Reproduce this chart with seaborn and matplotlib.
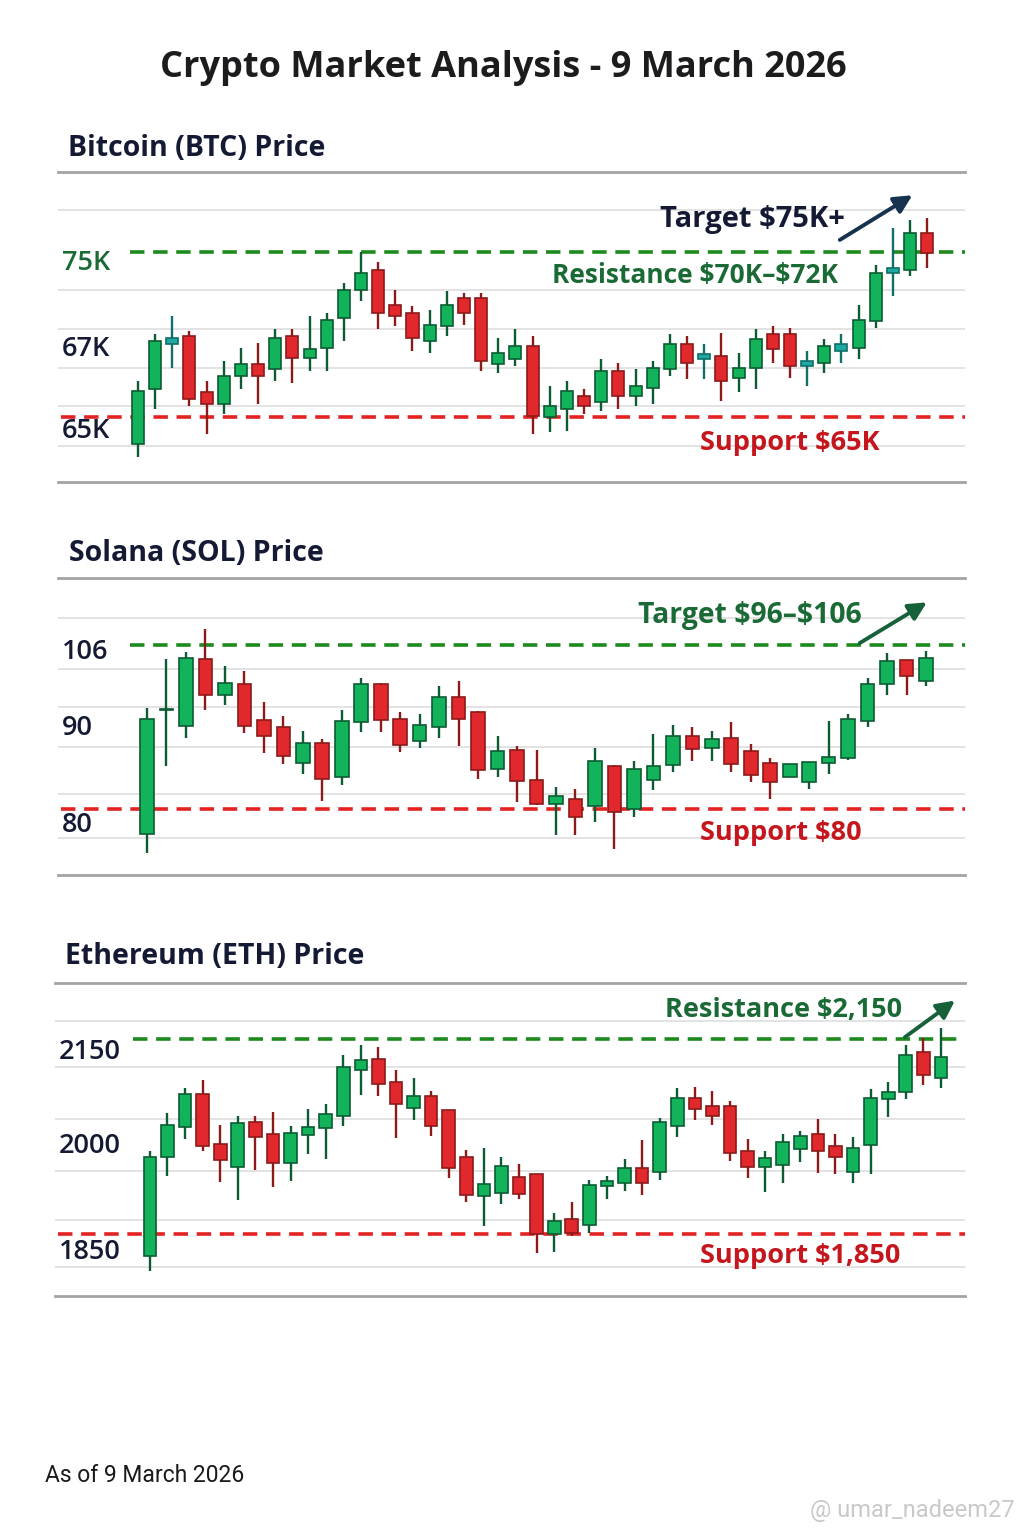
import numpy as np
import matplotlib
matplotlib.use('Agg')
import matplotlib.pyplot as plt
import seaborn as sns

# ---- data ----
btc_open  = [63.4, 66.7, 69.4, 69.9, 66.5, 65.8, 67.5, 68.2, 67.9, 69.9, 68.6, 69.2, 71.0, 72.7, 73.9, 71.8,
             71.3, 69.6, 70.5, 72.2, 72.2, 68.2, 68.5, 69.3, 65.0, 65.5, 66.3, 65.9, 67.8, 66.3, 66.8, 67.9,
             69.4, 68.5, 68.7, 67.4, 68.0, 70.0, 70.0, 68.1, 68.3, 69.4, 69.2, 70.8, 73.7, 73.9, 76.1]
btc_high  = [67.2, 70.0, 71.1, 70.2, 67.2, 68.4, 69.2, 69.5, 70.3, 70.3, 71.1, 71.3, 73.1, 75.0, 74.4, 72.7,
             71.7, 71.5, 72.6, 72.5, 72.5, 69.8, 70.3, 69.9, 66.9, 67.2, 66.7, 68.5, 68.3, 67.9, 68.4, 70.0,
             69.9, 69.4, 70.1, 68.9, 70.3, 70.5, 70.4, 69.0, 69.7, 70.0, 71.8, 74.2, 76.4, 76.9, 77.0]
btc_low   = [62.6, 65.5, 68.0, 65.7, 64.0, 65.2, 66.7, 65.8, 67.2, 67.1, 67.8, 67.8, 69.6, 72.0, 70.3, 70.5,
             69.0, 68.9, 69.9, 70.6, 67.8, 67.7, 68.1, 64.0, 64.1, 64.2, 65.2, 65.4, 65.5, 65.7, 65.8, 67.5,
             67.3, 67.3, 66.0, 66.5, 66.7, 68.3, 67.4, 66.9, 67.7, 68.3, 68.5, 70.4, 72.3, 73.5, 74.0]
btc_close = [66.6, 69.6, 69.8, 66.1, 65.8, 67.5, 68.2, 67.5, 69.8, 68.6, 69.1, 70.9, 72.7, 73.7, 71.3, 71.1,
             69.8, 70.6, 71.8, 71.3, 68.4, 68.9, 69.3, 65.1, 65.7, 66.6, 65.7, 67.8, 66.3, 66.9, 68.0, 69.4,
             68.3, 68.8, 67.2, 68.0, 69.7, 69.1, 68.1, 68.4, 69.3, 69.0, 70.9, 73.7, 74.0, 76.1, 74.9]

sol_open  = [76.0, 95.6, 93.2, 103.7, 98.1, 99.8, 94.1, 93.0, 87.2, 90.4, 85.0, 93.8, 99.8, 94.2, 90.8, 92.9,
             97.8, 95.3, 86.3, 89.4, 84.5, 80.7, 81.6, 80.4, 86.8, 80.0, 84.6, 87.0, 91.5, 89.6, 91.2, 89.2,
             87.2, 85.1, 84.2, 87.3, 88.1, 94.0, 99.8, 103.6, 100.3]
sol_high  = [96.0, 103.7, 104.8, 108.5, 102.6, 101.9, 96.9, 94.7, 92.3, 91.1, 95.6, 100.7, 100.0, 95.3, 95.1, 99.4,
             100.2, 95.5, 91.5, 90.0, 89.4, 83.4, 83.1, 89.7, 87.0, 87.6, 91.8, 93.3, 93.0, 92.4, 93.7, 90.3,
             88.1, 87.1, 87.4, 94.0, 95.0, 100.8, 104.7, 103.6, 105.1]
sol_low   = [73.0, 86.8, 91.2, 95.7, 96.5, 92.0, 88.8, 87.1, 85.5, 81.3, 83.8, 92.1, 92.1, 89.0, 89.6, 91.2,
             89.9, 84.8, 85.0, 81.0, 80.6, 75.8, 75.9, 77.9, 73.6, 78.7, 83.0, 85.8, 87.5, 87.5, 85.8, 84.2,
             81.6, 85.1, 83.2, 85.5, 87.8, 93.0, 98.1, 98.0, 99.5]
sol_close = [94.2, 95.8, 103.9, 98.1, 100.0, 93.2, 91.6, 88.3, 90.4, 84.8, 94.0, 99.8, 94.1, 90.1, 93.3, 97.8,
             94.3, 86.2, 89.1, 84.4, 80.7, 82.0, 78.7, 87.5, 79.5, 86.3, 86.8, 91.5, 89.5, 91.1, 87.1, 85.3,
             84.2, 87.1, 87.4, 88.2, 94.2, 99.8, 103.5, 101.1, 103.9]

eth_open  = [1817, 1969, 2015, 2066, 1988, 1954, 2022, 2004, 1960, 2003, 2013, 2031, 2102, 2119, 2084, 2044,
             2062, 2041, 1968, 1909, 1913, 1938, 1943, 1850, 1873, 1864, 1924, 1929, 1952, 1946, 2016, 2059,
             2047, 2047, 1978, 1954, 1956, 1981, 2004, 1986, 1945, 1987, 2058, 2069, 2130, 2090]
eth_high  = [1978, 2036, 2074, 2087, 2018, 2032, 2032, 2037, 2016, 2042, 2050, 2125, 2141, 2137, 2102, 2090,
             2070, 2041, 1980, 1982, 1968, 1958, 1943, 1882, 1899, 1934, 1940, 1966, 1995, 2028, 2075, 2076,
             2070, 2055, 1996, 1978, 2004, 2009, 2027, 2004, 1999, 2073, 2084, 2141, 2151, 2167]
eth_low   = [1793, 1940, 1997, 1978, 1930, 1903, 1949, 1923, 1932, 1973, 1966, 2016, 2064, 2062, 1998, 2026,
             2001, 1936, 1899, 1863, 1896, 1904, 1821, 1822, 1847, 1852, 1904, 1917, 1910, 1934, 2000, 2026,
             2018, 1963, 1936, 1915, 1929, 1961, 1944, 1943, 1929, 1943, 2030, 2058, 2079, 2074]
eth_close = [1968, 2018, 2065, 1986, 1964, 2021, 1999, 1959, 2005, 2015, 2035, 2107, 2118, 2081, 2050, 2062,
             2016, 1952, 1910, 1927, 1955, 1912, 1850, 1871, 1852, 1926, 1931, 1951, 1929, 2023, 2060, 2042,
             2031, 1974, 1954, 1967, 1992, 2001, 1978, 1969, 1983, 2059, 2068, 2126, 2095, 2123]

# levels
btc_resistance, btc_support = 75.0, 65.0
sol_resistance, sol_support = 106, 80
eth_resistance, eth_support = 2150, 1850

# y range of each panel and its faint grid rows
btc_ylim = (61.1, 79.8)
sol_ylim = (69.5, 116.6)
eth_ylim = (1755, 2236)
btc_grid = [77.5, 72.7, 70.3, 68.0, 65.7, 63.3]
sol_grid = [110.2, 102.1, 96.1, 89.8, 82.4, 75.4]
eth_grid = [2178, 2107, 2027, 1947, 1872, 1799]

# axis labels as printed on the chart (and where they sit)
btc_tick_pos = [74.3, 69.1, 64.2]
btc_tick_labels = ['75K', '67K', '65K']
sol_tick_pos = [104.9, 92.8, 77.5]
sol_tick_labels = ['106', '90', '80']
eth_tick_pos = [2130, 1985, 1823]
eth_tick_labels = ['2150', '2000', '1850']

W, H = 1024, 1536
UP, UP_EDGE = '#13b35b', '#0b5c32'
DN, DN_EDGE = '#e1292d', '#8c1a1a'
DOJI, DOJI_EDGE = '#1fa9a3', '#0f6f6b'
NAVY = '#141a33'
DKGREEN = '#1a6a36'
RED_TXT = '#c4161c'

sns.set_theme(style='white')
plt.rcParams['font.family'] = ['Open Sans', 'DejaVu Sans']

fig = plt.figure(figsize=(W / 100, H / 100), dpi=100)
fig.patch.set_facecolor('white')


def px_axes(left, top, right, bottom):
    return fig.add_axes([left / W, 1 - bottom / H, (right - left) / W, (bottom - top) / H])


def draw_panel(ax, o, h, l, c, xlim, ylim, grid, res, sup, res_start, ticks, labels,
               label_colors, body_w, doji_tol=0.0):
    o, h, l, c = map(np.asarray, (o, h, l, c))
    x = np.arange(len(o))
    ax.set_xlim(*xlim)
    ax.set_ylim(*ylim)
    for g in grid:
        ax.axhline(g, color='#e3e3e3', lw=1.4, zorder=0)
    ax.axhline(res, xmin=res_start, xmax=1, color='#1c8a1c', lw=2.6,
               dashes=(4, 2.4), zorder=1)
    ax.axhline(sup, xmin=0.003, xmax=1, color='#e32222', lw=2.6,
               dashes=(4, 2.4), zorder=1)
    up = c >= o
    doji = np.abs(c - o) < doji_tol
    face = np.where(doji, DOJI, np.where(up, UP, DN))
    edge = np.where(doji, DOJI_EDGE, np.where(up, UP_EDGE, DN_EDGE))
    ax.vlines(x, l, h, colors=edge, lw=1.7, zorder=2)
    body = np.where(np.abs(c - o) < 1e-9, (ylim[1] - ylim[0]) * 0.004, c - o)
    ax.bar(x, body, bottom=o, width=body_w, color=face, edgecolor=edge,
           linewidth=1.2, zorder=3)
    for p, lab, col in zip(ticks, labels, label_colors):
        ax.text(0.004, p, lab, transform=ax.get_yaxis_transform(), ha='left', va='center',
                fontsize=19.5, fontweight='semibold', color=col, zorder=5)
    ax.set_xticks([])
    ax.set_yticks([])
    for s in ('left', 'right'):
        ax.spines[s].set_visible(False)
    for s in ('top', 'bottom'):
        ax.spines[s].set_color('#a3a3a3')
        ax.spines[s].set_linewidth(2.0)
    ax.set_facecolor('none')


def note(ax, x, y, text, color, size=19.5):
    ax.text(x, y, text, transform=ax.transAxes, fontsize=size, fontweight='bold',
            color=color, va='center', ha='left', zorder=6)


def arrow(ax, start, end, color):
    ax.annotate('', xy=end, xytext=start, xycoords='axes fraction', textcoords='axes fraction',
                arrowprops=dict(arrowstyle='-|>,head_length=0.9,head_width=0.45', lw=2.8,
                                color=color, shrinkA=0, shrinkB=0), zorder=6)


# ---- Bitcoin ----
ax1 = px_axes(58, 172, 965, 482)
draw_panel(ax1, btc_open, btc_high, btc_low, btc_close, (-4.66, 48.2), btc_ylim, btc_grid,
           btc_resistance, btc_support, 0.079, btc_tick_pos, btc_tick_labels,
           [DKGREEN, NAVY, NAVY], 0.7, doji_tol=0.5)
note(ax1, 0.664, 0.848, 'Target \\$75K+', NAVY, size=21)
note(ax1, 0.545, 0.665, 'Resistance \\$70K\u2013\\$72K', DKGREEN, size=19)
note(ax1, 0.708, 0.126, 'Support \\$65K', RED_TXT)
arrow(ax1, (0.862, 0.781), (0.942, 0.925), '#16324f')

# ---- Solana ----
ax2 = px_axes(58, 578, 965, 875)
draw_panel(ax2, sol_open, sol_high, sol_low, sol_close, (-4.57, 42.0), sol_ylim, sol_grid,
           sol_resistance, sol_support, 0.079, sol_tick_pos, sol_tick_labels,
           [NAVY, NAVY, NAVY], 0.7)
note(ax2, 0.639, 0.875, 'Target \\$96\u2013\\$106', DKGREEN, size=20.3)
note(ax2, 0.708, 0.141, 'Support \\$80', RED_TXT)
arrow(ax2, (0.884, 0.781), (0.958, 0.918), '#16603a')

# ---- Ethereum ----
ax3 = px_axes(55, 983, 965, 1296)
draw_panel(ax3, eth_open, eth_high, eth_low, eth_close, (-5.4, 46.37), eth_ylim, eth_grid,
           eth_resistance, eth_support, 0.086, eth_tick_pos, eth_tick_labels,
           [NAVY, NAVY, NAVY], 0.72)
note(ax3, 0.670, 0.914, 'Resistance \\$2,150', DKGREEN)
note(ax3, 0.709, 0.128, 'Support \\$1,850', RED_TXT)
arrow(ax3, (0.934, 0.827), (0.989, 0.944), '#16603a')

# ---- titles and footer ----
fig.text(503 / W, 1 - 68 / H, 'Crypto Market Analysis - 9 March 2026', ha='center', va='center',
         fontsize=26, fontweight='bold', color='#1c1c1f')
fig.text(68 / W, 1 - 148 / H, 'Bitcoin (BTC) Price', ha='left', va='center',
         fontsize=20.5, fontweight='bold', color=NAVY)
fig.text(69 / W, 1 - 553 / H, 'Solana (SOL) Price', ha='left', va='center',
         fontsize=20.5, fontweight='bold', color=NAVY)
fig.text(65 / W, 1 - 957 / H, 'Ethereum (ETH) Price', ha='left', va='center',
         fontsize=20.5, fontweight='bold', color=NAVY)
fig.text(45 / W, 1 - 1475 / H, 'As of 9 March 2026', ha='left', va='center',
         fontsize=16.5, color='#1a1a1a', family=['Liberation Sans Narrow', 'Roboto', 'DejaVu Sans'])
fig.text(1015 / W, 1 - 1511 / H, '@ umar_nadeem27', ha='right', va='center',
         fontsize=17, color='#c9c9c9', family=['Liberation Sans Narrow', 'Roboto', 'DejaVu Sans'])

fig.savefig('out.png', dpi=100, facecolor='white')
